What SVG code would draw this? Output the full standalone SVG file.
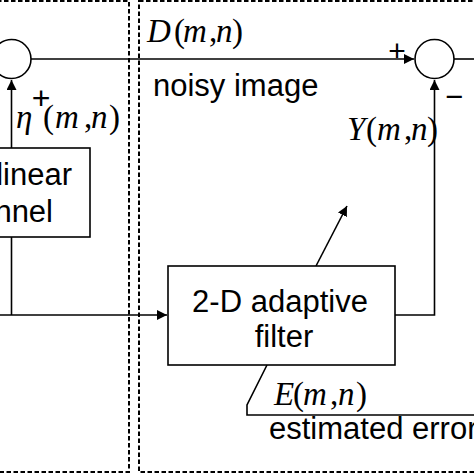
<svg xmlns="http://www.w3.org/2000/svg" width="474" height="474" viewBox="0 0 474 474">
<defs>
<marker id="ah" viewBox="0 0 10 10" refX="10" refY="5" markerWidth="10" markerHeight="10" markerUnits="userSpaceOnUse" orient="auto">
<path d="M0,0 L10,5 L0,10 Z" fill="#000"/>
</marker>
</defs>
<style>
.ln{fill:none;stroke:#000;stroke-width:1.6}
.box{fill:#fff;stroke:#000;stroke-width:1.6}
.dash{fill:none;stroke:#000;stroke-width:2;stroke-dasharray:4.5,2.5}
.sans{font-family:"Liberation Sans",Arial,sans-serif;font-size:31px;fill:#000}
.math{font-family:"Liberation Serif","Times New Roman",serif;font-size:33px;fill:#000}
.it{font-style:italic}
</style>
<rect width="474" height="474" fill="#fff"/>
<g id="regions">
<rect class="dash" x="-10" y="1" width="139" height="471"/>
<rect class="dash" x="139" y="1" width="345" height="471"/>
</g>
<g id="connectors">
<line class="ln" x1="31" y1="59" x2="414" y2="59" marker-end="url(#ah)"/>
<line class="ln" x1="454" y1="59" x2="474" y2="59"/>
<line class="ln" x1="11.5" y1="148" x2="11.5" y2="80" marker-end="url(#ah)"/>
<polyline class="ln" points="11.5,237 11.5,315"/>
<line class="ln" x1="-5" y1="315" x2="167" y2="315" marker-end="url(#ah)"/>
<polyline class="ln" points="395,315 434.5,315 434.5,80" marker-end="url(#ah)"/>
<line class="ln" x1="316" y1="266" x2="347" y2="206" marker-end="url(#ah)"/>
<polyline class="ln" points="267,365 247,405 247,415 474,415"/>
</g>
<g id="sum-left">
<circle class="box" cx="11.5" cy="59" r="19.5"/>
</g>
<g id="sum-right">
<circle class="box" cx="434.5" cy="59" r="19.5"/>
</g>
<g id="channel">
<rect class="box" x="-10" y="148" width="100" height="89"/>
<text class="sans" x="72" y="185" text-anchor="end">linear</text>
<text class="sans" x="53" y="222" text-anchor="end">channel</text>
</g>
<g id="filter">
<rect class="box" x="168" y="266" width="227" height="99"/>
<text class="sans" x="280" y="312" text-anchor="middle">2-D adaptive</text>
<text class="sans" x="284" y="347" text-anchor="middle">filter</text>
</g>
<g id="labels">
<text class="math"><tspan class="it" x="147" y="42">D</tspan><tspan x="174">(</tspan><tspan class="it" x="183">m</tspan><tspan x="209">,</tspan><tspan class="it" x="216">n</tspan><tspan x="232">)</tspan></text>
<text class="sans" x="153" y="96">noisy image</text>
<text class="math"><tspan class="it" x="16" y="128">η</tspan><tspan x="43">(</tspan><tspan class="it" x="55">m</tspan><tspan x="84">,</tspan><tspan class="it" x="91">n</tspan><tspan x="109">)</tspan></text>
<text class="math"><tspan class="it" x="347" y="140">Y</tspan><tspan x="366">(</tspan><tspan class="it" x="377">m</tspan><tspan x="404">,</tspan><tspan class="it" x="411">n</tspan><tspan x="427">)</tspan></text>
<text class="math"><tspan class="it" x="274" y="405">E</tspan><tspan x="293">(</tspan><tspan class="it" x="303">m</tspan><tspan x="330">,</tspan><tspan class="it" x="338">n</tspan><tspan x="356">)</tspan></text>
<text class="sans" x="269" y="439">estimated error</text>
<text class="sans" x="41" y="109" text-anchor="middle" style="font-size:32px">+</text>
<text class="sans" x="397" y="61" text-anchor="middle" style="font-size:30px">+</text>
<text class="sans" x="454" y="107" text-anchor="middle">−</text>
</g>
</svg>
